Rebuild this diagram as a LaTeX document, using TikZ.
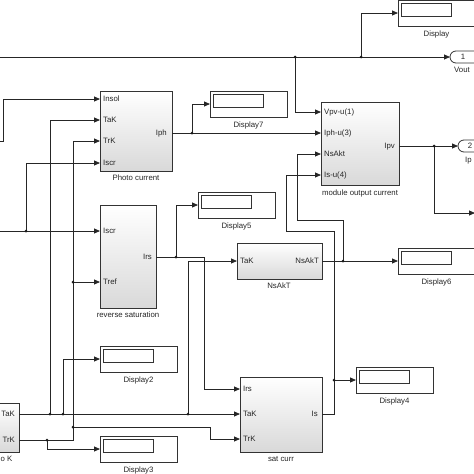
\documentclass[tikz,border=0pt]{standalone}
\usepackage{fontspec}
\setmainfont{Liberation Sans}
\usetikzlibrary{arrows.meta,shadows,calc}
\begin{document}
\begin{tikzpicture}[x=1pt,y=-1pt,
  every node/.style={font=\fontsize{7.8}{9}\selectfont, text=black!85},
  wire/.style={draw=black!85, line width=0.85pt},
  arr/.style={wire, -{Triangle[length=6pt,width=5pt]}},
  blk/.style={draw=black!80, line width=0.9pt, top color=white, bottom color=black!15,
    drop shadow={shadow xshift=1.2pt, shadow yshift=-1.2pt, fill=black!50, opacity=0.6},
    inner sep=0pt, outer sep=0pt, anchor=north west},
  dispbox/.style={draw=black!80, line width=0.9pt, fill=white,
    drop shadow={shadow xshift=1.2pt, shadow yshift=-1.2pt, fill=black!50, opacity=0.6},
    minimum width=77pt, minimum height=26pt, inner sep=0pt, outer sep=0pt, anchor=north west},
  inbox/.style={draw=black!80, line width=0.8pt, fill=white, minimum width=50pt,
    minimum height=13pt, inner sep=0pt, outer sep=0pt, anchor=north west},
  portbox/.style={draw=black!80, line width=0.8pt, fill=white, rounded corners=6pt,
    minimum width=32pt, minimum height=12pt, inner sep=0pt, outer sep=0pt, anchor=west},
  lin/.style={anchor=base west, inner sep=0pt},
  lout/.style={anchor=base east, inner sep=0pt},
  lbl/.style={anchor=base, inner sep=0pt},
  dot/.style={circle, fill=black!90, inner sep=0pt, minimum size=3pt}
]
\useasboundingbox (0,0) rectangle (474,474);
\clip (0,0) rectangle (474,474);

% ---------- blocks ----------
\node[blk, minimum width=72pt, minimum height=80pt] (pc) at (100,91) {};
\node[blk, minimum width=56pt, minimum height=103pt] (rs) at (100,205) {};
\node[blk, minimum width=78pt, minimum height=83pt] (moc) at (321,102) {};
\node[blk, minimum width=85pt, minimum height=36pt] (ns) at (237,243) {};
\node[blk, minimum width=82pt, minimum height=75pt] (sc) at (240,377) {};
\node[blk, minimum width=40pt, minimum height=49pt] (kb) at (-21,403) {};

% port labels
\node[lin] (pc1) at (103,101.8) {Insol};
\node[lin] (pc2) at (103,122.8) {TaK};
\node[lin] (pc3) at (103,143.8) {TrK};
\node[lin] (pc4) at (103,165.8) {Iscr};
\node[lout] (pc5) at (167,135.8) {Iph};
\node[lin] (rs1) at (103,233.8) {Iscr};
\node[lin] (rs2) at (103,284.8) {Tref};
\node[lout] (rs3) at (152,259.8) {Irs};
\node[lin] (mo1) at (324,114.8) {Vpv-u(1)};
\node[lin] (mo2) at (324,135.8) {Iph-u(3)};
\node[lin] (mo3) at (324,156.8) {NsAkt};
\node[lin] (mo4) at (324,177.8) {Is-u(4)};
\node[lout] (mo5) at (395,148.8) {Ipv};
\node[lin] (ns1) at (240,263.8) {TaK};
\node[lout] (ns2) at (319,263.8) {NsAkT};
\node[lin] (sc1) at (243,391.8) {Irs};
\node[lin] (sc2) at (243,416.8) {TaK};
\node[lin] (sc3) at (243,441.8) {TrK};
\node[lout] (sc4) at (318,416.8) {Is};
\node[lout] (kb1) at (15,416.8) {TaK};
\node[lout] (kb2) at (15,442.8) {TrK};

% block names
\node[lbl] (pcn) at (136,180.8) {Photo current};
\node[lbl] (rsn) at (128,317.8) {reverse saturation};
\node[lbl] (mon) at (360,195.8) {module output current};
\node[lbl] (nsn) at (279,288.8) {NsAkT};
\node[lbl] (scn) at (281,461.8) {sat curr};
\node[anchor=base west, inner sep=0pt] (kbn) at (0.5,461.8) {o K};

% ---------- displays ----------
\newcommand{\mydisp}[5]{%
  \node[dispbox] (#1) at (#2,#3) {};
  \node[inbox] (#1i) at ($(#1.north west)+(3,3)$) {};
  \node[lbl] (#1l) at ($(#1.south)+(0,#5)$) {#4};
}
\mydisp{d0}{398}{0}{Display}{10.5}
\mydisp{d7}{210}{91}{Display7}{10.5}
\mydisp{d5}{198}{192}{Display5}{10.5}
\mydisp{d6}{398}{248}{Display6}{10.5}
\mydisp{d2}{100}{346}{Display2}{10.5}
\mydisp{d4}{356}{367}{Display4}{10.5}
\mydisp{d3}{100}{436}{Display3}{10.5}

% ---------- outports ----------
\node[portbox] (vout) at (450,57) {};
\node[anchor=base, inner sep=0pt] (vout1) at (463,59.8) {1};
\node[lbl] (voutl) at (462,72.8) {Vout};
\node[portbox] (ipv) at (458,146) {};
\node[anchor=base, inner sep=0pt] (ipv2) at (470,148.8) {2};
\node[anchor=base west, inner sep=0pt] (ipvl) at (465,162.8) {Ip};

% ---------- port coordinates ----------
\coordinate (pc-insol) at (100,99);
\coordinate (pc-tak) at (100,120);
\coordinate (pc-trk) at (100,141);
\coordinate (pc-iscr) at (100,163);
\coordinate (pc-iph) at (172,133);
\coordinate (rs-iscr) at (100,231);
\coordinate (rs-tref) at (100,282);
\coordinate (rs-irs) at (156,257);
\coordinate (moc-vpv) at (321,112);
\coordinate (moc-iph) at (321,133);
\coordinate (moc-ns) at (321,154);
\coordinate (moc-is) at (321,175);
\coordinate (moc-ipv) at (399,146);
\coordinate (ns-tak) at (237,261);
\coordinate (ns-out) at (322,261);
\coordinate (sc-irs) at (240,389);
\coordinate (sc-tak) at (240,414);
\coordinate (sc-trk) at (240,439);
\coordinate (sc-is) at (322,414);
\coordinate (k-tak) at (19,414);
\coordinate (k-trk) at (19,440);

% free ends and bends
\coordinate (vin) at (0,57);
\coordinate (insolL) at (0,141);
\coordinate (iscrL) at (0,231);
\coordinate (outR) at (475,213);
\coordinate (c1) at (73,440);
\coordinate (c2) at (210,427);
\coordinate (c3) at (204,257);
\coordinate (c4) at (297,220);
\coordinate (c5) at (334,231);
\coordinate (c6) at (286,175);
\coordinate (c7) at (3,141);

% junctions
\coordinate (j1) at (295,57);
\coordinate (j2) at (361,57);
\coordinate (j3) at (26,231);
\coordinate (j4) at (50,414);
\coordinate (j5) at (63,414);
\coordinate (j6) at (188,414);
\coordinate (j8) at (47,440);
\coordinate (j9) at (73,282);
\coordinate (j10) at (73,427);
\coordinate (j11) at (176,257);
\coordinate (j12) at (192,133);
\coordinate (j13) at (343,261);
\coordinate (j14) at (334,380);
\coordinate (j15) at (434,146);

% ---------- wires ----------
\draw[arr] (vin) -- (vout.west);
\draw[arr] (j2) |- (d0.west);
\draw[arr] (j1) |- (moc-vpv);

\draw[arr] (insolL) -- (c7) |- (pc-insol);
\draw[arr] (iscrL) -- (rs-iscr);
\draw[arr] (j3) |- (pc-iscr);

\draw[arr] (k-tak) -- (sc-tak);
\draw[arr] (j4) |- (pc-tak);
\draw[arr] (j5) |- (d2.west);
\draw[arr] (j6) |- (ns-tak);

\draw[arr] (k-trk) -- (c1) |- (pc-trk);
\draw[arr] (j8) |- (d3.west);
\draw[arr] (j9) -- (rs-tref);
\draw[arr] (j10) -- (c2) |- (sc-trk);

\draw[arr] (rs-irs) -- (c3) |- (sc-irs);
\draw[arr] (j11) |- (d5.west);

\draw[arr] (pc-iph) -- (moc-iph);
\draw[arr] (j12) |- (d7.west);

\draw[arr] (ns-out) -- (d6.west);
\draw[arr] (j13) |- (c4) |- (moc-ns);

\draw[arr] (sc-is) -| (c5) -| (c6) -- (moc-is);
\draw[arr] (j14) -- (d4.west);

\draw[arr] (moc-ipv) -- (ipv.west);
\draw[arr] (j15) |- (outR);

% junction dots
\foreach \j in {j1,j2,j3,j4,j5,j6,j8,j9,j10,j11,j12,j13,j14,j15}
  \node[dot] at (\j) {};
\end{tikzpicture}
\end{document}
